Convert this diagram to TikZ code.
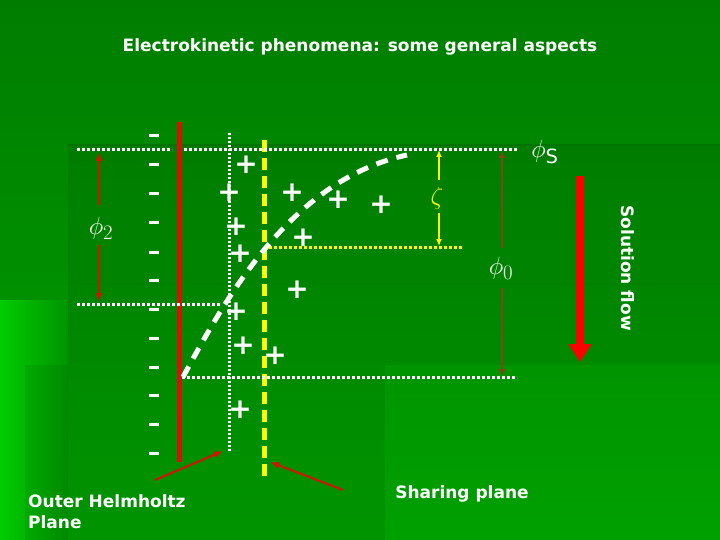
\documentclass[tikz,border=0pt]{standalone}
\usepackage{fontspec}
\setmainfont{DejaVu Sans}
\usetikzlibrary{arrows.meta}
\definecolor{bgtop}{RGB}{0,125,0}
\definecolor{bgbot}{RGB}{0,160,0}
\definecolor{ylw}{RGB}{255,255,0}
\definecolor{rd}{RGB}{210,20,0}
\definecolor{brn}{RGB}{130,70,20}
\begin{document}
\begin{tikzpicture}[x=1pt,y=-1pt,
  txt/.style={text=white,font=\fontsize{17}{21}\selectfont\bfseries},
  sym/.style={text=white,font=\fontsize{28}{28}\selectfont\rmfamily},
  pm/.style={text=white,font=\fontsize{28}{28}\selectfont\bfseries,inner sep=0pt},
  wdot/.style={white,line width=3pt,dash pattern=on 3pt off 2pt},
  ydot/.style={ylw,line width=3pt,dash pattern=on 3pt off 2pt},
  redarr/.style={rd,line width=2pt,-{Latex[length=9pt,width=7pt]}}]
\useasboundingbox (0,0) rectangle (720,540);
\shade[top color=bgtop,bottom color=bgbot] (0,0) rectangle (720,540);
\shade[left color=green!80!black,right color=bgbot!92!black] (0,300) rectangle (68,540);
\fill[black,opacity=0.07] (68,145) rectangle (720,365);
\fill[black,opacity=0.07] (25,365) rectangle (385,540);
\draw[black!55!green,line width=2pt] (68,145) -- (720,145);
\node[txt] (title) at (360,47) {Electrokinetic phenomena: some general aspects};
% minus signs
\foreach \y [count=\i] in {136,165,194,223,252,280,309,338,367,395,424,453}
  \draw[white,line width=3pt] (149,\y) -- (159,\y) coordinate (m\i);
% lines
\draw[rd,line width=5pt] (179,122) -- (179,462);
\draw[white,line width=3pt,dash pattern=on 2pt off 2pt] (229,133) -- (229,451);
\draw[ylw,line width=5pt,dash pattern=on 12pt off 6pt] (264,140) -- (264,478);
\draw[wdot] (77,150) -- (172,150);
\draw[wdot] (184,150) -- (518,150);
\draw[wdot] (77,304) -- (220,304);
\draw[wdot] (182,377) -- (517,377);
\draw[ydot] (264,247) -- (462,247);
% curve
\draw[white,line width=5pt,dash pattern=on 12pt off 9pt] (183,377) .. controls (225,300) and (290,180) .. (407,155);
% pluses
\foreach \x/\y [count=\i] in {246/165,229/193,292/193,338/200,381/205,236/227,303/238,240/254,297/290,236/312,243/346,275/356,240/410}
  \node[pm] (p\i) at (\x,\y) {+};
% labels
\node[sym] (phi2) at (101,228) {$\phi_2$};
\draw[redarr] (99,205) -- (99,152);
\draw[redarr] (99,245) -- (99,302);
\node[sym,text=ylw] (zeta) at (437,198) {$\zeta$};
\draw[ylw,line width=1.6pt,-{Latex[length=7pt,width=6pt]}] (439,180) -- (439,150);
\draw[ylw,line width=1.6pt,-{Latex[length=7pt,width=6pt]}] (439,213) -- (439,246);
\node[sym] (phi0) at (501,268) {$\phi_0$};
\draw[brn,line width=2.5pt,-{Latex[length=7pt,width=7pt]}] (502,248) -- (502,151);
\draw[brn,line width=2.5pt,-{Latex[length=7pt,width=7pt]}] (502,288) -- (502,376);
\node[sym] (phis) at (545,152) {$\phi_{\mathrm{S}}$};
\draw[red,line width=8pt,-{Triangle[length=18pt,width=22pt]}] (580,176) -- (580,362);
\node[txt,rotate=-90] (flow) at (628,268) {Solution flow};
% bottom labels
\node[txt,align=left,anchor=north west,inner sep=0pt] (ohp) at (28,494) {Outer Helmholtz\\Plane};
\node[txt] (shp) at (462,494) {Sharing plane};
\coordinate (a1) at (155,480);
\coordinate (a2) at (223,451);
\coordinate (b1) at (343,490);
\coordinate (b2) at (270,462);
\draw[redarr] (a1) -- (a2);
\draw[redarr] (b1) -- (b2);
\end{tikzpicture}
\end{document}
